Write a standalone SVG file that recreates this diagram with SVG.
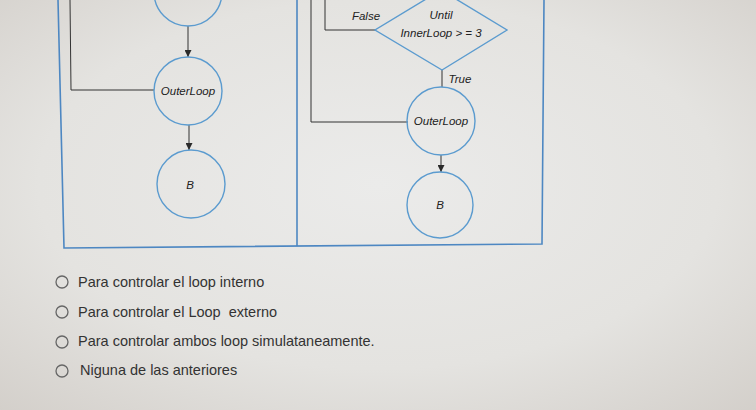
<svg xmlns="http://www.w3.org/2000/svg" width="756" height="410" viewBox="0 0 756 410">
<defs>
<radialGradient id="bg" cx="0.5" cy="0.45" r="0.75">
<stop offset="0" stop-color="#ebebea"/>
<stop offset="0.6" stop-color="#e4e3e0"/>
<stop offset="1" stop-color="#d3cfca"/>
</radialGradient>
<marker id="arr" viewBox="0 0 10 10" refX="10" refY="5" markerWidth="7" markerHeight="7" markerUnits="userSpaceOnUse" orient="auto">
<path d="M0,0 L10,5 L0,10 z" fill="#2a2a2a"/>
</marker>
<style>
.frame{fill:none;stroke:#4d87c2;stroke-width:1.6}
.node{fill:none;stroke:#5b9bcf;stroke-width:1.4}
.lbl{font-family:"Liberation Sans",Arial,sans-serif;font-style:italic;font-size:11.5px;fill:#222;text-anchor:middle}
.edge{fill:none;stroke:#333;stroke-width:1}
.opt{font-family:"Liberation Sans",Arial,sans-serif;font-size:14.5px;fill:#333;white-space:pre}
.radio{fill:none;stroke:#666;stroke-width:1.3}
</style>
</defs>
<rect width="756" height="410" fill="url(#bg)"/>

<g id="frame">
<path class="frame" d="M58,0 L64,248 L542,244 L544,0"/>
<path class="frame" d="M297,0 L297,246"/>
</g>

<g id="connectors">
<path class="edge" d="M70,0 L71,90 L154,90"/>
<path class="edge" d="M188,26 L188,57" marker-end="url(#arr)"/>
<path class="edge" d="M189,125 L189,150" marker-end="url(#arr)"/>
<path class="edge" d="M325,0 L325,30 L375,30"/>
<path class="edge" d="M311,0 L311,122 L408,122"/>
<path class="edge" d="M442,70 L442,87"/>
<path class="edge" d="M441,155 L441,172" marker-end="url(#arr)"/>
</g>

<g id="top-left">
<circle class="node" cx="188" cy="-8" r="34"/>
</g>
<g id="outer-left">
<circle class="node" cx="188" cy="91" r="34"/>
<text class="lbl" x="188" y="95">OuterLoop</text>
</g>
<g id="b-left">
<circle class="node" cx="191" cy="184" r="34"/>
<text class="lbl" x="190" y="189">B</text>
</g>

<g id="until">
<path class="node" d="M441,-10 L507,30 L442,70 L375,30 Z"/>
<text class="lbl" x="441" y="19">Until</text>
<text class="lbl" x="441" y="37">InnerLoop &gt; = 3</text>
</g>
<text class="lbl" x="366" y="20">False</text>
<text class="lbl" x="460" y="83">True</text>

<g id="outer-right">
<circle class="node" cx="441" cy="121" r="34"/>
<text class="lbl" x="441" y="125">OuterLoop</text>
</g>
<g id="b-right">
<circle class="node" cx="440" cy="205" r="33"/>
<text class="lbl" x="440" y="209">B</text>
</g>

<g id="options">
<circle class="radio" cx="62" cy="282" r="6"/>
<text class="opt" x="78" y="287">Para controlar el loop interno</text>
<circle class="radio" cx="62" cy="312" r="6"/>
<text class="opt" x="78" y="317" xml:space="preserve">Para controlar el Loop  externo</text>
<circle class="radio" cx="62" cy="342" r="6"/>
<text class="opt" x="78" y="346">Para controlar ambos loop simulataneamente.</text>
<circle class="radio" cx="62" cy="371" r="6"/>
<text class="opt" x="80" y="375">Niguna de las anteriores</text>
</g>
</svg>
